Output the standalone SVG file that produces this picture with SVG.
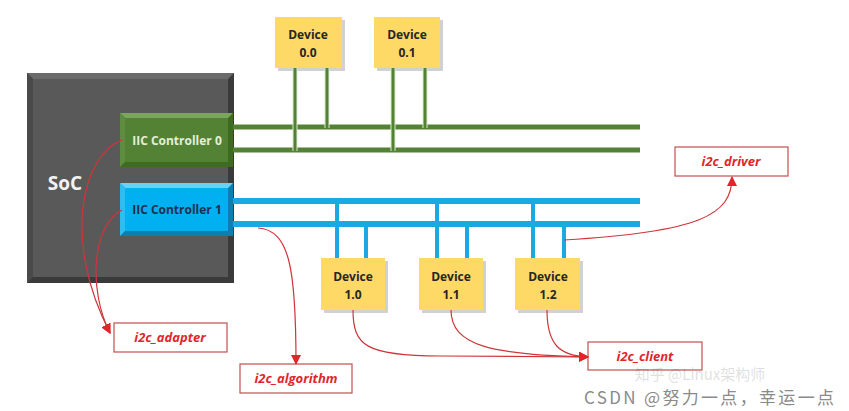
<svg xmlns="http://www.w3.org/2000/svg" width="849" height="411" viewBox="0 0 849 411">
<style>
.dev{fill:#ffd966;}
.shadow{fill:#000;opacity:0.18;}
.devtxt{font-family:"Open Sans","Liberation Sans",sans-serif;font-weight:bold;font-size:12px;fill:#262626;text-anchor:middle;}
.lbl{fill:#fff;stroke:#c0504d;stroke-width:1.2;}
.lbltxt{font-family:"Open Sans","Liberation Sans",sans-serif;font-weight:bold;font-style:italic;font-size:13px;fill:#e0262a;text-anchor:middle;}
.gbus{stroke:#548235;stroke-width:5;fill:none;}
.gv{stroke:#d9e8cf;stroke-width:5;fill:none;}
.gvi{stroke:#548235;stroke-width:3;fill:none;}
.bbus{stroke:#1ba9e1;stroke-width:6;fill:none;}
.bv{stroke:#1ba9e1;stroke-width:4;fill:none;}
.red{stroke:#d0353a;stroke-width:1.2;fill:none;}
.ctl{font-family:"Open Sans","Liberation Sans",sans-serif;font-weight:bold;font-size:12px;text-anchor:middle;}
</style>
<defs>
<marker id="ah" markerWidth="10" markerHeight="10" refX="9" refY="5" orient="auto" markerUnits="userSpaceOnUse">
<path d="M0,0 L10,5 L0,10 Z" fill="#e0262a"/>
</marker>
</defs>
<rect width="849" height="411" fill="#fff"/>

<g id="soc">
<rect x="27" y="73" width="207" height="210" fill="#3a3a3a"/>
<polygon points="27,73 234,73 228,79 33,79" fill="#6b6b6b"/>
<polygon points="27,73 33,79 33,277 27,283" fill="#4a4a4a"/>
<rect x="33" y="79" width="195" height="198" fill="#595959"/>
<text x="65" y="190" font-family="Open Sans,Liberation Sans,sans-serif" font-size="19" font-weight="bold" fill="#f2f2f2" text-anchor="middle">SoC</text>
</g>

<g id="ctrl0">
<rect x="120" y="113" width="113" height="54" fill="#3d6b22"/>
<polygon points="120,113 233,113 228,118 125,118" fill="#7aa55a"/>
<polygon points="120,113 125,118 125,162 120,167" fill="#5e8c40"/>
<rect x="125" y="118" width="103" height="44" fill="#548235"/>
<text class="ctl" x="177" y="145" fill="#e2efda">IIC Controller 0</text>
</g>

<g id="ctrl1">
<rect x="120" y="183" width="113" height="53" fill="#0a7fb0"/>
<polygon points="120,183 233,183 228,188 125,188" fill="#66d2f7"/>
<polygon points="120,183 125,188 125,231 120,236" fill="#2fbdf0"/>
<rect x="125" y="188" width="103" height="43" fill="#00b0f0"/>
<text class="ctl" x="177" y="214" fill="#1f3050">IIC Controller 1</text>
</g>

<g id="dev00">
<rect class="shadow" x="278" y="20" width="67" height="51"/>
<rect class="dev" x="275" y="17" width="67" height="51"/>
<text class="devtxt" x="308" y="39">Device</text>
<text class="devtxt" x="308" y="57">0.0</text>
</g>
<g id="dev01">
<rect class="shadow" x="377" y="20" width="66" height="51"/>
<rect class="dev" x="374" y="17" width="66" height="51"/>
<text class="devtxt" x="407" y="39">Device</text>
<text class="devtxt" x="407" y="57">0.1</text>
</g>
<g id="dev10">
<rect class="shadow" x="324" y="261" width="64" height="52"/>
<rect class="dev" x="321" y="258" width="64" height="52"/>
<text class="devtxt" x="353" y="281">Device</text>
<text class="devtxt" x="353" y="299">1.0</text>
</g>
<g id="dev11">
<rect class="shadow" x="422" y="261" width="64" height="52"/>
<rect class="dev" x="419" y="258" width="64" height="52"/>
<text class="devtxt" x="451" y="281">Device</text>
<text class="devtxt" x="451" y="299">1.1</text>
</g>
<g id="dev12">
<rect class="shadow" x="518" y="261" width="65" height="52"/>
<rect class="dev" x="515" y="258" width="65" height="52"/>
<text class="devtxt" x="548" y="281">Device</text>
<text class="devtxt" x="548" y="299">1.2</text>
</g>

<g id="lbl-driver">
<rect class="lbl" x="675" y="147" width="113" height="29"/>
<text class="lbltxt" x="731" y="166">i2c_driver</text>
</g>
<g id="lbl-adapter">
<rect class="lbl" x="114" y="323" width="113" height="29"/>
<text class="lbltxt" x="170" y="342">i2c_adapter</text>
</g>
<g id="lbl-algorithm">
<rect class="lbl" x="240" y="364" width="112" height="29"/>
<text class="lbltxt" x="296" y="383">i2c_algorithm</text>
</g>
<g id="lbl-client">
<rect class="lbl" x="588" y="342" width="114" height="28"/>
<text class="lbltxt" x="645" y="361">i2c_client</text>
</g>

<g id="connectors">
<line class="gbus" x1="233" y1="127" x2="640" y2="127"/>
<line class="gbus" x1="233" y1="150" x2="640" y2="150"/>
<path class="gv" d="M295,68 V151 M327,68 V128 M393,68 V151 M425,68 V128"/>
<path class="gvi" d="M295,68 V151 M327,68 V128 M393,68 V151 M425,68 V128"/>
<line class="bbus" x1="233" y1="201" x2="640" y2="201"/>
<line class="bbus" x1="233" y1="224" x2="640" y2="224"/>
<path class="bv" d="M337,198 V258 M366,224 V258 M437,198 V258 M467,224 V258 M533,198 V258 M564,224 V258"/>
<path class="red" d="M122,140 C82,155 62,240 110,333" marker-end="url(#ah)"/>
<path class="red" d="M122,210 C92,225 88,290 110,333" marker-end="url(#ah)"/>
<path class="red" d="M258,228 C290,230 296,270 296,364" marker-end="url(#ah)"/>
<path class="red" d="M564,240 C700,232 732,215 732,177" marker-end="url(#ah)"/>
<path class="red" d="M353,310 C353,345 365,356 440,356 L588,357" marker-end="url(#ah)"/>
<path class="red" d="M451,310 C451,345 490,355 588,357" marker-end="url(#ah)"/>
<path class="red" d="M547,310 C547,345 560,356 588,357" marker-end="url(#ah)"/>
</g>

<g id="watermark">
<text x="700" y="380" font-family="Noto Sans CJK SC,sans-serif" font-size="15" fill="#000" opacity="0.12" text-anchor="middle">知乎 @Linux架构师</text>
<text x="709" y="404" font-family="Noto Sans CJK SC,sans-serif" font-size="17" fill="#8a8a8a" text-anchor="middle" textLength="250">CSDN @努力一点，幸运一点</text>
</g>
</svg>
